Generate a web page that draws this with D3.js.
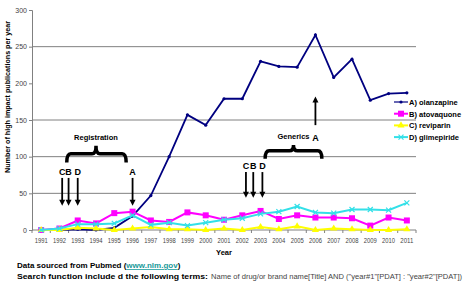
<!DOCTYPE html>
<html>
<head>
<meta charset="utf-8">
<script src="https://cdn.jsdelivr.net/npm/d3@7"></script>
<style>
  body { margin: 0; background: #fff; }
  svg { display: block; font-family: "Liberation Sans", Arial, sans-serif; }
</style>
</head>
<body>
<div id="chart"></div>
<script>
const years = d3.range(1991, 2012);
const olanzapine = [0, 0, 1, 0, 3, 19, 47, 100, 157, 143, 179, 179, 230, 223, 222, 266, 208, 233, 177, 186, 187];
const atovaquone = [0, 2, 13, 9, 23, 25, 13, 11, 24, 20, 14, 20, 26, 15, 20, 17, 17, 16, 6, 17, 13];
const reviparin = [0, 0, 3, 2, 0, 2, 4, 1, 1, 0, 2, 0, 4, 1, 5, 0, 2, 1, 0, 0, 1];
const glimepiride = [0, 2, 8, 8, 9, 20, 7, 10, 6, 10, 14, 16, 22, 25, 32, 24, 23, 28, 28, 27, 37];
const seriesNames = ["A) olanzapine", "B) atovaquone", "C) reviparin", "D) glimepiride"];
const yTicks = [0, 50, 100, 150, 200, 250, 300];
const gridTicks = [50, 100, 150, 250];

// annotation anchors, in year / value units
const downArrows = [
  {label: "C", year: 1992.15, top: 71, tip: 33},
  {label: "B", year: 1992.5, top: 71, tip: 33},
  {label: "D", year: 1993.0, top: 71, tip: 33},
  {label: "A", year: 1996.0, top: 71, tip: 33},
  {label: "C", year: 2002.2, top: 79, tip: 44},
  {label: "B", year: 2002.6, top: 79, tip: 44},
  {label: "D", year: 2003.1, top: 79, tip: 44}
];
const upArrows = [{label: "A", year: 2006.0, tail: 143, tip: 182}];
const braces = [
  {text: "Registration", from: 1992.4, to: 1995.65, mid: 1994.0, peak: 115, bar: 104, end: 92},
  {text: "Generics", from: 2003.25, to: 2006.35, mid: 2004.8, peak: 116, bar: 108, end: 97}
];

const W = 474, H = 283;
const plotL = 32, plotR = 416, plotT = 10, plotB = 230;

const svg = d3.select("#chart").append("svg").attr("width", W).attr("height", H);

const x = d3.scaleLinear().domain([1990.5, 2011.5]).range([plotL, plotR]);
const y = d3.scaleLinear().domain([0, 300]).range([plotB, plotT]);

// grid
svg.append("g").selectAll("line").data(gridTicks).enter().append("line")
  .attr("x1", plotL).attr("x2", plotR)
  .attr("y1", d => y(d)).attr("y2", d => y(d))
  .attr("stroke", "#808080").attr("stroke-width", 1);

// y axis
const yAxis = svg.append("g").attr("transform", `translate(${plotL},0)`)
  .call(d3.axisLeft(y).tickValues(yTicks).tickSize(3).tickPadding(2));
yAxis.select(".domain").attr("stroke", "#808080");
yAxis.selectAll(".tick line").attr("stroke", "#808080");
yAxis.selectAll("text").attr("font-size", 7).attr("fill", "#444")
  .attr("font-family", "Liberation Sans, Arial");

// x axis
const xAxis = svg.append("g").attr("transform", `translate(0,${plotB})`);
xAxis.append("line").attr("x1", plotL).attr("x2", plotR).attr("stroke", "#808080");
xAxis.selectAll(".tk").data(d3.range(1990.5, 2012.5)).enter().append("line")
  .attr("x1", d => x(d)).attr("x2", d => x(d)).attr("y1", 0).attr("y2", 3)
  .attr("stroke", "#808080");
xAxis.selectAll(".lb").data(years).enter().append("text")
  .attr("x", d => x(d)).attr("y", 13).attr("text-anchor", "middle")
  .attr("font-size", 6.5).attr("fill", "#444").attr("textLength", 13)
  .attr("lengthAdjust", "spacingAndGlyphs").text(d => d);

// axis titles
svg.append("text").attr("transform", "translate(10,97) rotate(-90)")
  .attr("text-anchor", "middle").attr("font-size", 7).attr("font-weight", "bold")
  .attr("textLength", 152).attr("lengthAdjust", "spacingAndGlyphs")
  .text("Number of high impact publications per year");
svg.append("text").attr("x", (plotL + plotR) / 2).attr("y", 255)
  .attr("text-anchor", "middle").attr("font-size", 7.5).attr("font-weight", "bold")
  .text("Year");

// series
const series = [
  {name: seriesNames[0], values: olanzapine, color: "#000080", width: 1.8, marker: "dot"},
  {name: seriesNames[1], values: atovaquone, color: "#ff00ff", width: 2, marker: "square"},
  {name: seriesNames[2], values: reviparin, color: "#ffff00", width: 2, marker: "triangle"},
  {name: seriesNames[3], values: glimepiride, color: "#33e0e8", width: 2, marker: "cross"}
];

const line = d3.line().x((d, i) => x(years[i])).y(d => y(d));

function drawMarker(g, type, color, cx, cy) {
  if (type === "dot") {
    g.append("circle").attr("cx", cx).attr("cy", cy).attr("r", 1.6).attr("fill", color);
  } else if (type === "square") {
    g.append("rect").attr("x", cx - 3).attr("y", cy - 3).attr("width", 6).attr("height", 6).attr("fill", color);
  } else if (type === "triangle") {
    g.append("path").attr("d", d3.symbol(d3.symbolTriangle, 22)()).attr("transform", `translate(${cx},${cy})`).attr("fill", color);
  } else {
    g.append("path").attr("d", `M${cx-2.5},${cy-2.5}L${cx+2.5},${cy+2.5}M${cx-2.5},${cy+2.5}L${cx+2.5},${cy-2.5}`)
      .attr("stroke", color).attr("stroke-width", 1.2);
  }
}

series.forEach(s => {
  const g = svg.append("g");
  g.append("path").datum(s.values).attr("d", line)
    .attr("fill", "none").attr("stroke", s.color).attr("stroke-width", s.width);
  s.values.forEach((v, i) => drawMarker(g, s.marker, s.color, x(years[i]), y(v)));
});

// arrows
const ann = svg.append("g");
function arrow(xp, y0, y1) {
  const dir = y1 > y0 ? 1 : -1;
  ann.append("line").attr("x1", xp).attr("x2", xp).attr("y1", y0).attr("y2", y1 - dir * 5)
    .attr("stroke", "#000").attr("stroke-width", 1.8);
  ann.append("path").attr("d", `M${xp - 3},${y1 - dir * 6}L${xp + 3},${y1 - dir * 6}L${xp},${y1}Z`).attr("fill", "#000");
}
downArrows.forEach(a => {
  arrow(x(a.year), y(a.top), y(a.tip));
  ann.append("text").attr("x", x(a.year)).attr("y", y(a.top) - 3)
    .attr("text-anchor", "middle").attr("font-size", 9).attr("font-weight", "bold").text(a.label);
});
upArrows.forEach(a => {
  arrow(x(a.year), y(a.tail), y(a.tip));
  ann.append("text").attr("x", x(a.year)).attr("y", y(a.tail) + 16)
    .attr("text-anchor", "middle").attr("font-size", 9).attr("font-weight", "bold").text(a.label);
});

braces.forEach(b => {
  const x0 = x(b.from), x1 = x(b.to), xm = x(b.mid);
  const yt = y(b.peak), ym = y(b.bar), yb = y(b.end), r = 4;
  ann.append("path")
    .attr("d", `M${x0},${yb}Q${x0},${ym} ${x0 + r},${ym}L${xm - r},${ym}Q${xm},${ym} ${xm},${yt}` +
      `Q${xm},${ym} ${xm + r},${ym}L${x1 - r},${ym}Q${x1},${ym} ${x1},${yb}`)
    .attr("fill", "none").attr("stroke", "#000").attr("stroke-width", 3.5);
  ann.append("text").attr("x", xm).attr("y", yt - 6).attr("text-anchor", "middle")
    .attr("font-size", 7.5).attr("font-weight", "bold").text(b.text);
});

// legend
const lg = svg.append("g").attr("transform", "translate(394,102)");
series.forEach((s, i) => {
  const row = lg.append("g").attr("transform", `translate(0,${i * 11.7})`);
  row.append("line").attr("x1", 0).attr("x2", 14).attr("stroke", s.color).attr("stroke-width", s.marker === "dot" ? 1.2 : 2);
  drawMarker(row, s.marker, s.color, 7, 0);
  row.append("text").attr("x", 15).attr("y", 3).attr("font-size", 7.5).attr("font-weight", "bold")
    .text(s.name);
});

// footer
const f1 = svg.append("text").attr("x", 17).attr("y", 268).attr("font-size", 8).attr("font-weight", "bold");
f1.append("tspan").text("Data sourced from Pubmed (");
f1.append("tspan").attr("fill", "#1a9a9a").attr("text-decoration", "underline").text("www.nlm.gov");
f1.append("tspan").text(")");
svg.append("text").attr("x", 17).attr("y", 279).attr("font-size", 8).attr("font-weight", "bold")
  .attr("textLength", 191).attr("lengthAdjust", "spacingAndGlyphs")
  .text("Search function include d the following terms:");
svg.append("text").attr("x", 211).attr("y", 279).attr("font-size", 7.5).attr("fill", "#444")
  .attr("textLength", 251).attr("lengthAdjust", "spacingAndGlyphs")
  .text("Name of drug/or brand name[Title] AND (\"year#1\"[PDAT] : \"year#2\"[PDAT])");
</script>
</body>
</html>
